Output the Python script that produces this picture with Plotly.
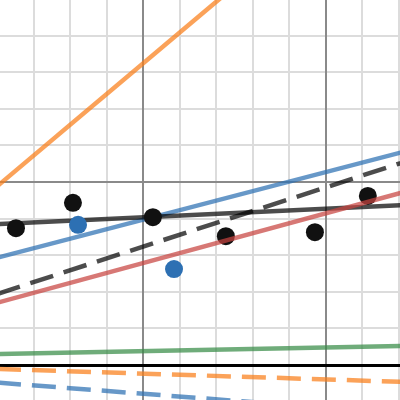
import plotly.graph_objects as go

# Line endpoints (shared x extent)
line_x = [1.0, 12.5]
orange_solid_y = [4.88, 14.54]
blue_solid_y = [2.93, 5.92]
black_dashed_y = [1.94, 5.66]
red_solid_y = [1.70, 4.82]
black_solid_y = [3.85, 4.39]
green_solid_y = [0.30, 0.53]
orange_dashed_y = [-0.106, -0.474]
blue_dashed_y = [-0.48, -1.355]

# Scatter points
black_pts_x = [1.52, 3.08, 5.27, 7.27, 9.71, 11.16]
black_pts_y = [3.74, 4.43, 4.04, 3.52, 3.63, 4.62]
blue_pts_x = [3.22, 5.85]
blue_pts_y = [3.83, 2.62]

ORANGE = "rgba(250,126,25,0.72)"
BLUE = "rgba(45,112,179,0.72)"
RED = "rgba(199,68,64,0.72)"
GREEN = "rgba(56,140,70,0.72)"
BLACK = "rgba(0,0,0,0.7)"

fig = go.Figure()

def add_line(y, color, dash="solid"):
    fig.add_trace(go.Scatter(x=line_x, y=y, mode="lines",
                             line=dict(color=color, width=4.5, dash=dash),
                             hoverinfo="skip", showlegend=False))

DASH = "24px,11px"
add_line(green_solid_y, GREEN)
add_line(orange_dashed_y, ORANGE, DASH)
add_line(blue_dashed_y, BLUE, DASH)
add_line(orange_solid_y, ORANGE)
add_line(blue_solid_y, BLUE)
add_line(black_dashed_y, BLACK, DASH)
add_line(black_solid_y, BLACK)

fig.add_trace(go.Scatter(x=blue_pts_x, y=blue_pts_y, mode="markers",
                         marker=dict(color="#2d70b3", size=18, line=dict(width=0)),
                         showlegend=False))
fig.add_trace(go.Scatter(x=black_pts_x, y=black_pts_y, mode="markers",
                         marker=dict(color="#111111", size=18, line=dict(width=0)),
                         showlegend=False))
add_line(red_solid_y, RED)

fig.update_layout(
    width=400, height=400,
    margin=dict(l=0, r=0, t=0, b=0),
    paper_bgcolor="white", plot_bgcolor="white",
    showlegend=False,
    xaxis=dict(range=[1.082, 12.041], dtick=5, tick0=0, showgrid=True,
               gridcolor="#8a8a8a", gridwidth=1.8, zeroline=False,
               showticklabels=False, ticks="", showline=False,
               minor=dict(dtick=1, tick0=0, showgrid=True, gridcolor="#dcdcdc", gridwidth=1.8)),
    yaxis=dict(range=[-0.956, 9.973], dtick=5, tick0=0, showgrid=True,
               gridcolor="#8a8a8a", gridwidth=1.8, zeroline=True,
               zerolinecolor="#000000", zerolinewidth=3,
               showticklabels=False, ticks="", showline=False,
               minor=dict(dtick=1, tick0=0, showgrid=True, gridcolor="#dcdcdc", gridwidth=1.8)),
)

fig.write_html("out.html", config={"displayModeBar": False},
               post_script="document.body.style.margin='0';document.body.style.overflow='hidden';")
